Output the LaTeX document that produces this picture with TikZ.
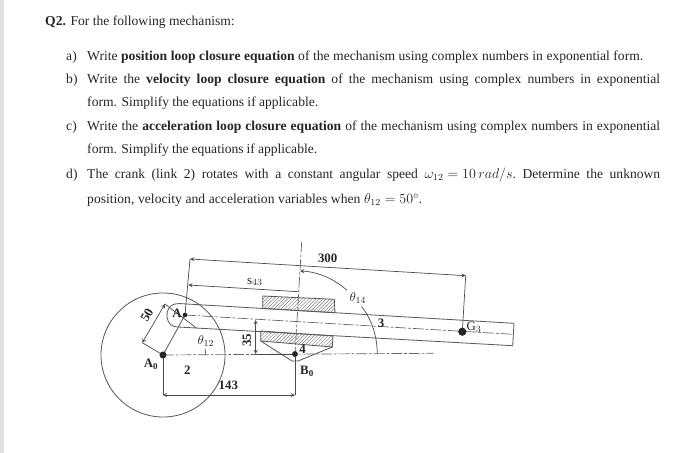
\documentclass[tikz,border=0pt]{standalone}
\usepackage{amsmath}
\usepackage{fontspec}
\setmainfont{Liberation Serif}
\usetikzlibrary{arrows,patterns}
\newcommand{\qline}[5]{\node[qtext,anchor=west] (#1) at (#2,#3) {\makebox[\dimexpr0.03cm*#4\relax][s]{#5}};}
\begin{document}
\begin{tikzpicture}[line cap=round,line join=round,>=stealth,x=0.03cm,y=-0.03cm,
qtext/.style={inner sep=0pt,text=black!85,font=\fontsize{11.6}{13}\selectfont},
part/.style={draw=black!65,line width=0.7pt},
dimline/.style={draw=black!70,line width=0.6pt},
axisline/.style={draw=black!60,line width=0.6pt,dash pattern=on 9pt off 2pt on 2pt off 2pt},
hatchblock/.style={part,pattern=north east lines,pattern color=black!50},
pin/.style={circle,fill=black!85,inner sep=0pt,minimum size=#1},
lab/.style={inner sep=0pt,text=black!85,font=\fontsize{11}{13}\selectfont}]
\useasboundingbox (0,0) rectangle (700,453);
\fill[black!12] (0,0) rectangle (4,453);
% text of the question
\node[qtext,anchor=west] (qhead) at (45,22) {\textbf{Q2.} For the following mechanism:};
\node[qtext,anchor=west] (qa) at (66,57) {a)};
\node[qtext,anchor=west] (qb) at (66,80) {b)};
\node[qtext,anchor=west] (qc) at (66,127) {c)};
\node[qtext,anchor=west] (qd) at (66,175) {d)};
\qline{la}{87}{57}{556}{Write \textbf{position loop closure equation} of the mechanism using complex numbers in exponential form.}
\qline{lb}{87}{80}{573}{Write the \textbf{velocity loop closure equation} of the mechanism using complex numbers in exponential}
\qline{lbb}{87}{103}{231}{form. Simplify the equations if applicable.}
\qline{lc}{87}{127}{573}{Write the \textbf{acceleration loop closure equation} of the mechanism using complex numbers in exponential}
\qline{lcc}{87}{150}{230}{form. Simplify the equations if applicable.}
\qline{ld}{87}{175}{573}{The crank (link 2) rotates with a constant angular speed \mbox{$\omega_{12}=10\,rad/s$.} Determine the unknown}
\qline{ldd}{87}{200}{335}{position, velocity and acceleration variables when \mbox{$\theta_{12}=50^\circ$.}}
% points of the mechanism
\coordinate (Azero) at (163,355);
\coordinate (Apin) at (185,315);
\coordinate (Bzero) at (295,354);
\coordinate (Gpin) at (462.3,331.7);
\coordinate (topL) at (190,259);
\coordinate (topR) at (465.7,275.7);
\coordinate (sL) at (188.3,285);
\coordinate (sR) at (298.3,291.7);
\coordinate (fiftyA) at (165,304);
\coordinate (fiftyB) at (142.3,342.7);
\coordinate (fiftyC) at (196,327.7);
\coordinate (baseL) at (163,395);
\coordinate (baseR) at (295,395);
\coordinate (thirtyA) at (255.7,320);
\coordinate (thirtyB) at (255.7,354);
\coordinate (vertT) at (301.7,241.7);
\coordinate (axisR) at (433.3,353.3);
\coordinate (axisG) at (513,334.3);
% crank disc and link
\draw[part] (Azero) circle[radius=62];
\draw[part] (Azero) -- (Apin);
% blocks of the guide
\draw[hatchblock] (262.7,296) -- (334.3,299.3) -- (335,312.7) -- (262.7,308.4) -- cycle;
\draw[hatchblock] (260.7,331) -- (333,336) -- (332.3,347) -- (260.7,341) -- cycle;
\draw[part] (260.7,341) -- (292,361) -- (298,361) -- (332.3,347);
% slider 3
\draw[part] (514,323.3) -- (180,303.6) .. controls (170,303) and (166,310) .. (167,317) .. controls (168,324) and (172,327) .. (178,327) -- (512.7,345.7) -- cycle;
% centre lines
\draw[axisline] (Apin) -- (axisG);
\draw[axisline] (Azero) -- (axisR);
\draw[axisline] (vertT) -- (Bzero);
% dimensions
\draw[dimline,<->] (topL) -- (topR);
\draw[dimline] (Apin) -- (topL);
\draw[dimline] (topR) -- (Gpin);
\draw[dimline,->] (sR) -- (sL);
\draw[dimline,<->] (fiftyA) -- (fiftyB);
\draw[dimline] (fiftyB) -- (Azero);
\draw[dimline] (fiftyA) -- (fiftyC);
\draw[dimline,<->] (baseL) -- (baseR);
\draw[dimline] (Azero) -- (baseL);
\draw[dimline] (Bzero) -- (baseR);
\draw[dimline,<->] (thirtyA) -- (thirtyB);
\draw[dimline] (thirtyB) -- (Bzero);
\draw[dimline,<-] (300,271) .. controls (320,272) and (335,280) .. (346.7,290);
\draw[dimline] (361.7,306.7) .. controls (372,320) and (377,336) .. (377.3,353.3);
\draw[dimline] (205,349) .. controls (206,351) and (206,353) .. (205,355);
% pins
\node[pin=6pt] (pinAzero) at (Azero) {};
\node[pin=4pt] (pinA) at (Apin) {};
\node[pin=5pt] (pinB) at (Bzero) {};
\node[pin=7pt] (pinG) at (Gpin) {};
% labels
\node[lab] (labA) at (177,313) {\textbf{A}};
\node[lab] (labAzero) at (151,364) {\textbf{A}$_{\mathbf 0}$};
\node[lab] (labtwo) at (187.3,370.7) {\textbf{2}};
\node[lab] (labbase) at (228.3,385.7) {\textbf{143}};
\node[lab,rotate=60] (labfifty) at (147,315) {\textbf{50}};
\node[lab,rotate=90] (labthirty) at (247,340) {\textbf{35}};
\node[lab] (labthetaA) at (206,341) {$\theta_{12}$};
\node[lab] (labs) at (255,282) {s$_{43}$};
\node[lab] (labtop) at (327.7,258) {\textbf{300}};
\node[lab] (labthetaB) at (358,298) {$\theta_{14}$};
\node[lab] (labthree) at (381,323) {\textbf{3}};
\node[lab] (labG) at (474,327.3) {G$_3$};
\node[lab] (labfour) at (302.7,349) {\textbf{4}};
\node[lab] (labB) at (307,371) {\textbf{B}$_{\mathbf 0}$};
\end{tikzpicture}
\end{document}
